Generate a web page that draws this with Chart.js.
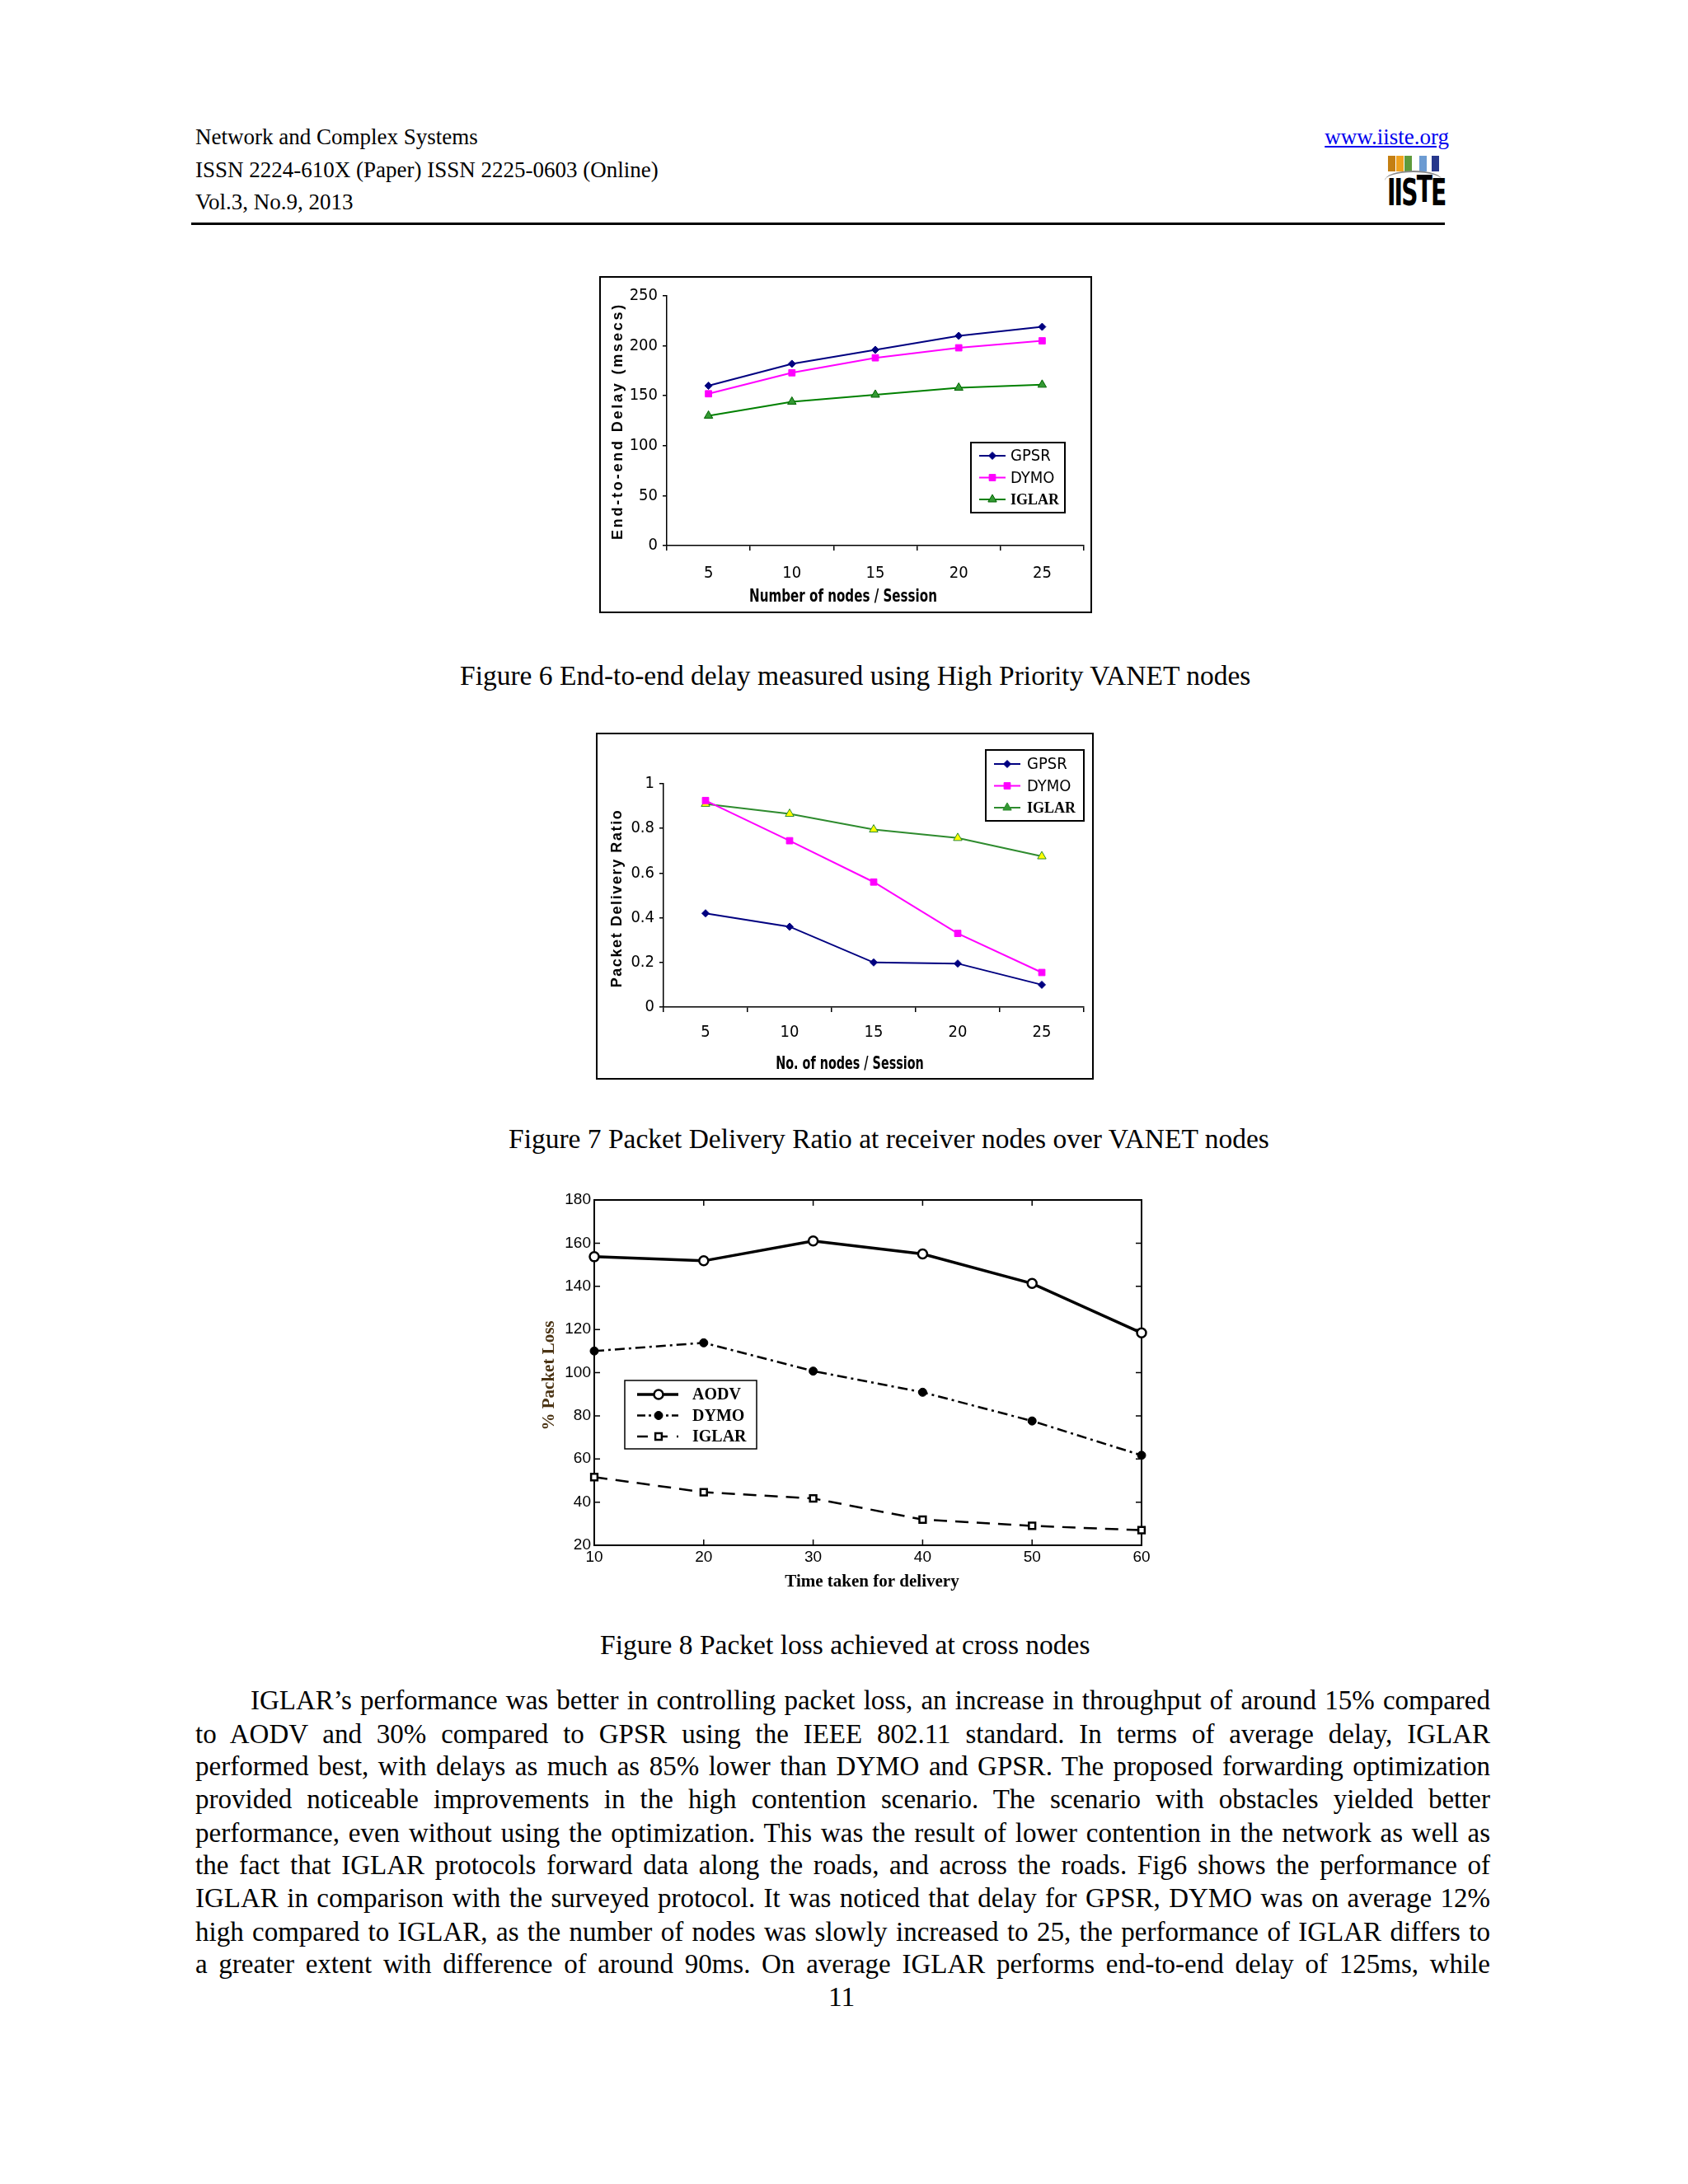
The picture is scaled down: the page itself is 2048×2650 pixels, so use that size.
<!DOCTYPE html>
<html>
<head>
<meta charset="utf-8">
<script src="https://cdn.jsdelivr.net/npm/chart.js@4.4.1/dist/chart.umd.min.js"></script>
<style>
  html, body { margin: 0; padding: 0; background: #fff; }
  body { width: 2048px; height: 2650px; position: relative; overflow: hidden; font-family: 'Liberation Serif', 'Times New Roman', serif; color: #000; }
  .t { position: absolute; white-space: pre; line-height: 40px; }
  .hd { font-size: 27px; line-height: 32px; }
  .cap { font-size: 33.5px; }
  .jl { font-size: 33px; }
  .frame { position: absolute; border: 2px solid #000; box-sizing: border-box; }
  canvas { position: absolute; }
  .bar { position: absolute; top: 189px; width: 9px; height: 19px; }
</style>
</head>
<body>

<!-- page header -->
<div class="t hd" style="left:237px; top:150px">Network and Complex Systems</div>
<div class="t hd" style="left:237px; top:190px">ISSN 2224-610X (Paper) ISSN 2225-0603 (Online)</div>
<div class="t hd" style="left:237px; top:229px">Vol.3, No.9, 2013</div>
<div class="t hd" style="right:290px; top:150px; color:#0000ee; text-decoration:underline">www.iiste.org</div>
<div class="bar" style="left:1684px; background:#c47f12"></div>
<div class="bar" style="left:1694px; background:#f0a21e"></div>
<div class="bar" style="left:1704px; background:#5e9a3c"></div>
<div class="bar" style="left:1722px; background:#6c9bd2"></div>
<div class="bar" style="left:1737px; background:#27378c"></div>
<div style="position:absolute; left:1680px; top:207px; width:70px; height:10px; border-top:2px solid #888; border-radius:50% 50% 0 0 / 100% 100% 0 0"></div>
<div style="position:absolute; left:1683px; top:211px; font-family:'DejaVu Sans Condensed','Liberation Sans Narrow',sans-serif; font-weight:bold; font-size:34px; line-height:34px; letter-spacing:-2px; transform:scale(0.92,1.3); transform-origin:left top">II<span>S</span><span style="position:relative; top:-3px">T</span>E</div>
<div style="position:absolute; left:232px; top:270px; width:1521px; height:3px; background:#000"></div>

<!-- Figure 6 -->
<div class="frame" style="left:727px; top:335px; width:598px; height:409px"></div>
<canvas id="fig6" width="594" height="405" style="left:729px; top:337px"></canvas>
<div class="t cap" style="left:558px; top:800px">Figure 6 End-to-end delay measured using High Priority VANET nodes</div>

<!-- Figure 7 -->
<div class="frame" style="left:723px; top:889px; width:604px; height:421px"></div>
<canvas id="fig7" width="600" height="417" style="left:725px; top:891px"></canvas>
<div class="t cap" style="left:617px; top:1362px">Figure 7 Packet Delivery Ratio at receiver nodes over VANET nodes</div>

<!-- Figure 8 -->
<canvas id="fig8" width="760" height="510" style="left:640px; top:1430px"></canvas>
<div class="t cap" style="left:728px; top:1976px">Figure 8 Packet loss achieved at cross nodes</div>

<!-- body text -->
<div class="t jl" style="left:304px; width:1504px; top:2043px">IGLAR’s performance was better in controlling packet loss, an increase in throughput of around 15% compared</div>
<div class="t jl" style="left:237px; width:1571px; top:2084px">to AODV and 30% compared to GPSR using the IEEE 802.11 standard. In terms of average delay, IGLAR</div>
<div class="t jl" style="left:237px; width:1571px; top:2123px">performed best, with delays as much as 85% lower than DYMO and GPSR. The proposed forwarding optimization</div>
<div class="t jl" style="left:237px; width:1571px; top:2163px">provided noticeable improvements in the high contention scenario. The scenario with obstacles yielded better</div>
<div class="t jl" style="left:237px; width:1571px; top:2204px">performance, even without using the optimization. This was the result of lower contention in the network as well as</div>
<div class="t jl" style="left:237px; width:1571px; top:2243px">the fact that IGLAR protocols forward data along the roads, and across the roads. Fig6 shows the performance of</div>
<div class="t jl" style="left:237px; width:1571px; top:2283px">IGLAR in comparison with the surveyed protocol. It was noticed that delay for GPSR, DYMO was on average 12%</div>
<div class="t jl" style="left:237px; width:1571px; top:2324px">high compared to IGLAR, as the number of nodes was slowly increased to 25, the performance of IGLAR differs to</div>
<div class="t jl" style="left:237px; width:1571px; top:2363px">a greater extent with difference of around 90ms. On average IGLAR performs end-to-end delay of 125ms, while</div>
<div class="t cap" style="left:1005px; top:2403px">11</div>

<script>
// ---- data ----
const nodes = ['5', '10', '15', '20', '25'];

const delayGPSR = [160, 182, 196, 210, 219];
const delayDYMO = [152, 173, 188, 198, 205];
const delayIGLAR = [130, 144, 151, 158, 161];

const pdrGPSR = [0.42, 0.36, 0.20, 0.195, 0.10];
const pdrDYMO = [0.925, 0.745, 0.56, 0.33, 0.155];
const pdrIGLAR = [0.91, 0.865, 0.795, 0.757, 0.675];

const times = [10, 20, 30, 40, 50, 60];
const lossAODV = [153.7, 151.8, 161, 155, 141.3, 118.4];
const lossDYMO = [110, 113.8, 100.7, 90.9, 77.6, 61.7];
const lossIGLAR = [51.6, 44.6, 41.7, 31.9, 29, 27];

const NARROW = "'Liberation Sans Narrow', 'DejaVu Sans Condensed', 'Arial Narrow', sans-serif";
const SANS = "'Liberation Sans', Arial, sans-serif";
const SERIF = "'Liberation Serif', 'Times New Roman', serif";

// justify each body line on one row
document.querySelectorAll('.jl').forEach(el => {
  const txt = el.textContent;
  const target = parseFloat(el.style.width);
  el.innerHTML = '<span>' + txt + '</span>';
  const w = el.firstChild.getBoundingClientRect().width;
  const gaps = (txt.match(/ /g) || []).length;
  el.style.wordSpacing = ((target - w) / gaps) + 'px';
});

const drawPt = (ctx, o, x, y) => {
  if (Chart.helpers && Chart.helpers.drawPoint) Chart.helpers.drawPoint(ctx, o, x, y);
};

// framed legend inside the plot, built from the datasets
const boxLegend = {
  id: 'boxLegend',
  afterDraw(chart, args, o) {
    const ctx = chart.ctx;
    ctx.save();
    ctx.lineWidth = o.border;
    ctx.strokeStyle = '#000';
    ctx.fillStyle = '#fff';
    ctx.fillRect(o.x, o.y, o.w, o.h);
    ctx.strokeRect(o.x, o.y, o.w, o.h);
    chart.data.datasets.forEach((ds, i) => {
      const cy = o.y + o.first + i * o.row;
      ctx.strokeStyle = ds.borderColor;
      ctx.lineWidth = ds.borderWidth;
      ctx.setLineDash(ds.legendDash || ds.borderDash || []);
      ctx.beginPath();
      ctx.moveTo(o.x + o.l0, cy);
      ctx.lineTo(o.x + o.l1, cy);
      ctx.stroke();
      ctx.setLineDash([]);
      ctx.fillStyle = ds.legendFill || ds.pointBackgroundColor;
      ctx.strokeStyle = ds.pointBorderColor;
      ctx.lineWidth = ds.pointBorderWidth;
      drawPt(ctx, { pointStyle: ds.pointStyle, radius: ds.pointRadius, borderWidth: ds.pointBorderWidth, rotation: 0 }, o.x + o.mx, cy);
      ctx.fillStyle = '#000';
      ctx.font = ds.legendFont || o.font;
      ctx.textAlign = 'left';
      ctx.textBaseline = 'middle';
      ctx.fillText(ds.label, o.x + o.tx, cy + 1);
    });
    ctx.restore();
  }
};

// axis titles with letter spacing / horizontal squeeze
const axisTitles = {
  id: 'axisTitles',
  afterDraw(chart, args, o) {
    const ctx = chart.ctx;
    o.items.forEach(t => {
      ctx.save();
      ctx.font = t.font;
      ctx.fillStyle = t.color || '#000';
      if ('letterSpacing' in ctx) ctx.letterSpacing = (t.spacing || 0) + 'px';
      ctx.textAlign = 'center';
      ctx.textBaseline = 'middle';
      ctx.translate(t.x, t.y);
      if (t.rotate) ctx.rotate(-Math.PI / 2);
      ctx.scale(t.sx || 1, 1);
      ctx.fillText(t.text, 0, 0);
      ctx.restore();
    });
  }
};

// closed box with inward ticks on all four sides (fig 8)
const boxTicks = {
  id: 'boxTicks',
  beforeDatasetsDraw(chart, args, o) {
    if (!o.on) return;
    const { ctx, chartArea: a, scales } = chart;
    ctx.save();
    ctx.strokeStyle = '#000';
    ctx.lineWidth = 2;
    ctx.strokeRect(a.left, a.top, a.right - a.left, a.bottom - a.top);
    ctx.lineWidth = 1.5;
    ctx.beginPath();
    scales.x.ticks.forEach(t => {
      const px = scales.x.getPixelForValue(t.value);
      ctx.moveTo(px, a.bottom); ctx.lineTo(px, a.bottom - o.len);
      ctx.moveTo(px, a.top); ctx.lineTo(px, a.top + o.len);
    });
    scales.y.ticks.forEach(t => {
      const py = scales.y.getPixelForValue(t.value);
      ctx.moveTo(a.left, py); ctx.lineTo(a.left + o.len, py);
      ctx.moveTo(a.right, py); ctx.lineTo(a.right - o.len, py);
    });
    ctx.stroke();
    ctx.restore();
  }
};

Chart.register(boxLegend, axisTitles, boxTicks);

const excelX = (padding) => ({
  type: 'category',
  offset: true,
  grid: { offset: true, drawOnChartArea: false, tickLength: 6, color: '#000', lineWidth: 1.5 },
  border: { color: '#000', width: 1.5 },
  ticks: { color: '#000', font: { family: NARROW, size: 20 }, padding: padding, maxRotation: 0 },
});
const excelY = (min, max, step) => ({
  min: min, max: max,
  ticks: {
    stepSize: step, color: '#000', font: { family: NARROW, size: 20 }, padding: 6,
    callback: v => String(Number(v.toFixed(2))),
  },
  grid: { drawOnChartArea: false, tickLength: 5, color: '#000', lineWidth: 1.5 },
  border: { color: '#000', width: 1.5 },
  afterFit: s => { s.width = 80; },
});

const line = (label, data, color, style, radius, fill, border, extra) => Object.assign({
  label: label, data: data,
  borderColor: color, borderWidth: 2,
  pointStyle: style, pointRadius: radius,
  pointBackgroundColor: fill, pointBorderColor: border, pointBorderWidth: 1,
  tension: 0, clip: 10,
}, extra || {});

const legendFontN = 'normal 20px ' + NARROW;
const legendFontS = 'bold 18px ' + SERIF;

// ---- Figure 6 ----
const x6 = excelX(16);
x6.afterFit = s => { s.height = 80; };
new Chart(document.getElementById('fig6'), {
  type: 'line',
  data: {
    labels: nodes,
    datasets: [
      line('GPSR', delayGPSR, '#000080', 'rectRot', 4.5, '#000080', '#000080', { legendFont: legendFontN }),
      line('DYMO', delayDYMO, '#ff00ff', 'rect', 5.5, '#ff00ff', '#ff00ff', { legendFont: legendFontN }),
      line('IGLAR', delayIGLAR, '#008000', 'triangle', 6, '#339933', '#006400', { legendFont: legendFontS }),
    ]
  },
  options: {
    responsive: false, animation: false, devicePixelRatio: 1,
    layout: { padding: { left: 0, top: 22, right: 8, bottom: 0 } },
    scales: { x: x6, y: excelY(0, 250, 50) },
    plugins: {
      legend: { display: false }, tooltip: { enabled: false },
      boxLegend: { x: 449, y: 200, w: 114, h: 85, border: 2, first: 16, row: 26.5, l0: 10, l1: 42, mx: 26, tx: 48, font: legendFontN },
      axisTitles: { items: [
        { text: 'End-to-end Delay (msecs)', x: 21, y: 174, rotate: true, font: 'bold 18px ' + SANS, spacing: 2.8 },
        { text: 'Number of nodes / Session', x: 294, y: 388, font: 'bold 21px ' + NARROW, sx: 0.8 },
      ] },
      boxTicks: { on: false },
    }
  }
});

// ---- Figure 7 ----
const x7 = excelX(13);
x7.afterFit = s => { s.height = 86; };
new Chart(document.getElementById('fig7'), {
  type: 'line',
  data: {
    labels: nodes,
    datasets: [
      line('GPSR', pdrGPSR, '#000080', 'rectRot', 4.5, '#000080', '#000080', { legendFont: legendFontN }),
      line('DYMO', pdrDYMO, '#ff00ff', 'rect', 5.5, '#ff00ff', '#ff00ff', { legendFont: legendFontN }),
      line('IGLAR', pdrIGLAR, '#2e8b2e', 'triangle', 6, '#ffff00', '#2e8b2e', { legendFont: legendFontS, legendFill: '#339933' }),
    ]
  },
  options: {
    responsive: false, animation: false, devicePixelRatio: 1,
    layout: { padding: { left: 0, top: 60, right: 10, bottom: 0 } },
    scales: { x: x7, y: excelY(0, 1, 0.2) },
    plugins: {
      legend: { display: false }, tooltip: { enabled: false },
      boxLegend: { x: 471, y: 19, w: 119, h: 86, border: 2, first: 17, row: 26.5, l0: 10, l1: 42, mx: 26, tx: 50, font: legendFontN },
      axisTitles: { items: [
        { text: 'Packet Delivery Ratio', x: 24, y: 199, rotate: true, font: 'bold 18px ' + SANS, spacing: 1.6 },
        { text: 'No. of nodes / Session', x: 306, y: 401, font: 'bold 21px ' + NARROW, sx: 0.76 },
      ] },
      boxTicks: { on: false },
    }
  }
});

// ---- Figure 8 ----
const pts = ys => times.map((t, i) => ({ x: t, y: ys[i] }));
new Chart(document.getElementById('fig8'), {
  type: 'line',
  data: {
    datasets: [
      line('AODV', pts(lossAODV), '#000', 'circle', 5.5, '#fff', '#000', { borderWidth: 3.5, pointBorderWidth: 2.5 }),
      line('DYMO', pts(lossDYMO), '#000', 'circle', 5, '#000', '#000', { borderWidth: 2.5, borderDash: [12, 5, 3, 5], legendDash: [10, 4, 3, 4] }),
      line('IGLAR', pts(lossIGLAR), '#000', 'rect', 5.5, '#fff', '#000', { borderWidth: 2.5, pointBorderWidth: 2.5, borderDash: [16, 10], legendDash: [13, 11] }),
    ]
  },
  options: {
    responsive: false, animation: false, devicePixelRatio: 1,
    layout: { padding: { left: 0, top: 26, right: 15, bottom: 0 } },
    scales: {
      x: {
        type: 'linear', min: 10, max: 60,
        ticks: { stepSize: 10, color: '#000', font: { family: SANS, size: 19 }, padding: 3, maxRotation: 0 },
        grid: { display: false, drawTicks: false }, border: { display: false },
        afterFit: s => { s.height = 65; },
      },
      y: {
        min: 20, max: 180,
        ticks: { stepSize: 20, color: '#000', font: { family: SANS, size: 19 }, padding: 4 },
        grid: { display: false, drawTicks: false }, border: { display: false },
        afterFit: s => { s.width = 81; },
      }
    },
    plugins: {
      legend: { display: false }, tooltip: { enabled: false },
      boxLegend: { x: 118, y: 245, w: 160, h: 83, border: 1.5, first: 17, row: 25.5, l0: 15, l1: 65, mx: 41, tx: 82, font: 'bold 20px ' + SERIF },
      axisTitles: { items: [
        { text: '% Packet Loss', x: 27, y: 239, rotate: true, font: 'bold 21px ' + SERIF, color: '#4b3414' },
        { text: 'Time taken for delivery', x: 418, y: 490, font: 'bold 21px ' + SERIF },
      ] },
      boxTicks: { on: true, len: 7 },
    }
  }
});
</script>
</body>
</html>
